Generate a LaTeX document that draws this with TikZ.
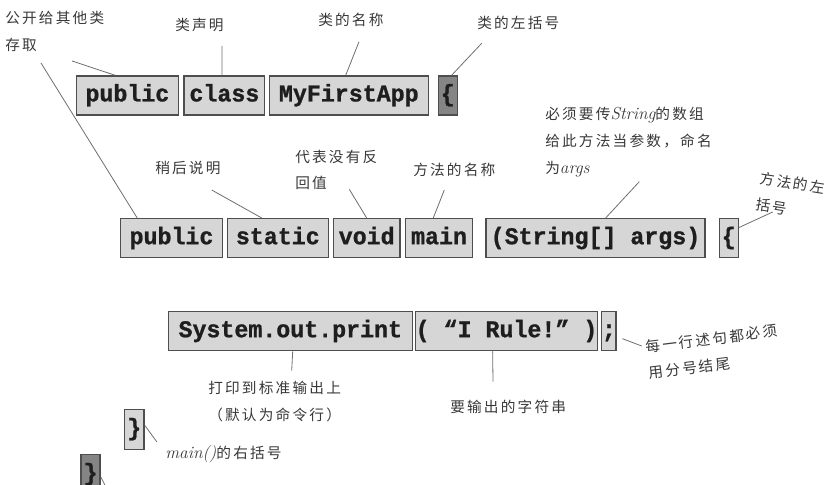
\documentclass[tikz,border=0pt]{standalone}
\usepackage{fontspec}
\setmonofont{Liberation Mono}[FakeStretch=0.97, BoldFeatures={FakeBold=1}]
\newfontfamily\cjk[LetterSpace=15]{Noto Sans CJK SC}
\newcommand\handlatin[1]{{\rmfamily\itshape\fontsize{13}{20}\selectfont #1}}

\definecolor{boxgray}{HTML}{D6D6D6}
\definecolor{bracegray}{HTML}{858585}
\definecolor{boxedge}{HTML}{4E4E4E}
\definecolor{codeink}{HTML}{1E1E1E}
\definecolor{noteink}{HTML}{383838}
\definecolor{lineink}{HTML}{6E6E6E}

\begin{document}
\begin{tikzpicture}[x=0.75pt, y=-0.75pt,
	code/.style={draw=boxedge, fill=boxgray, line width=1pt, inner xsep=0pt, inner ysep=4pt,
		minimum height=0.75*39pt, text height=13.5pt, text depth=4.5pt, text=codeink,
		font=\ttfamily\bfseries\fontsize{18}{18}\selectfont},
	dark/.style={code, fill=bracegray},
	note/.style={anchor=west, align=left, inner sep=0pt, text=noteink,
		font=\cjk\fontsize{11}{20}\selectfont},
	pointer/.style={draw=lineink, line width=0.6pt}]
	\useasboundingbox (0,0) rectangle (839,485);

	% class line
	\node[code, minimum width=0.75*101.6pt] (pub1) at (127.4,95.4) {public};
	\node[code, minimum width=0.75*80.7pt] (cls) at (224.4,95.4) {class};
	\node[code, minimum width=0.75*159pt] (appname) at (348.8,95.4) {MyFirstApp};
	\node[dark, minimum width=0.75*19pt] (lbr1) at (447.8,95.4) {\{};

	% method line
	\node[code, minimum width=0.75*101.6pt] (pub2) at (171.5,238.2) {public};
	\node[code, minimum width=0.75*101pt] (stat) at (277.8,238.2) {static};
	\node[code, minimum width=0.75*66.7pt] (vd) at (366.7,238.2) {void};
	\node[code, minimum width=0.75*67.4pt] (mn) at (439,238.2) {main};
	\node[code, minimum width=0.75*219pt] (args) at (595.5,238.2) {(String[] args)};
	\node[code, minimum width=0.75*19pt] (lbr2) at (728.8,238.2) {\{};

	% statement line
	\node[code, minimum width=0.75*244pt] (prt) at (290.3,331.2) {System.out.print};
	\node[code, minimum width=0.75*181.6pt] (str) at (506.5,331.2) {( “I Rule!” )};
	\node[code, minimum width=0.75*14.3pt] (semi) at (608.9,331.2) {;};

	% closing braces
	\node[code, minimum width=0.75*19.7pt, minimum height=0.75*40pt] (rbr1) at (134.2,429.3) {\}};
	\node[dark, minimum width=0.75*19pt, minimum height=0.75*40pt] (rbr2) at (90.5,474.3) {\}};

	% notes
	\node[note] (n_pub) at (5,31.5) {公开给其他类\\存取};
	\node[note] (n_cls) at (175,25) {类声明};
	\node[note] (n_app) at (318,20) {类的名称};
	\node[note] (n_lbr1) at (477,23) {类的左括号};
	\node[note] (n_stat) at (155,168) {稍后说明};
	\node[note] (n_vd) at (295,170) {代表没有反\\回值};
	\node[note] (n_mn) at (413,170) {方法的名称};
	\node[note] (n_args) at (545,142) {必须要传\handlatin{String}的数组\\给此方法当参数，命名\\为\handlatin{args}};
	\node[note, rotate=-9] (n_lbr2) at (758,191) {方法的左\\括号};
	\node[note] (n_prt) at (208,401.7) {打印到标准输出上\\（默认为命令行）};
	\node[note] (n_str) at (450,406.7) {要输出的字符串};
	\node[note, rotate=7] (n_semi) at (647,360) {每一行述句都必须\\用分号结尾};
	\node[note] (n_rbr1) at (165,454) {\handlatin{main()}的右括号};

	% free ends of the pointers
	\coordinate (c1) at (72,61);
	\coordinate (c2) at (41,63);
	\coordinate (c3) at (222,46);
	\coordinate (c4) at (359,41.7);
	\coordinate (c5) at (481.7,43.3);
	\coordinate (c6) at (211.7,190);
	\coordinate (c7) at (349.3,189.3);
	\coordinate (c8) at (444.3,190);
	\coordinate (c9) at (639.3,181.7);
	\coordinate (c10) at (772.7,212);
	\coordinate (c11) at (291.7,370.7);
	\coordinate (c12) at (493,381.7);
	\coordinate (c13) at (641.7,346);
	\coordinate (c14) at (156.7,441.7);
	\coordinate (c15) at (110,495);

	\draw[pointer] (c1) -- ([xshift=-9.3pt]pub1.north);
	\draw[pointer] (c2) -- ([xshift=-25.7pt]pub2.north);
	\draw[pointer] (c3) -- ([xshift=-1.8pt]cls.north);
	\draw[pointer] (c4) -- ([xshift=-2.3pt]appname.north);
	\draw[pointer] (c5) -- ([xshift=2.9pt]lbr1.north);
	\draw[pointer] (c6) -- ([xshift=-12pt]stat.north);
	\draw[pointer] (c7) -- (vd.north);
	\draw[pointer] (c8) -- ([xshift=-4.3pt]mn.north);
	\draw[pointer] (c9) -- ([xshift=7.6pt]args.north);
	\draw[pointer] (c10) -- ([yshift=8pt]lbr2.east);
	\draw[pointer] ([xshift=1.8pt]prt.south) -- (c11);
	\draw[pointer] ([xshift=-10.4pt]str.south) -- (c12);
	\draw[pointer, shorten <=4.5pt] ([yshift=-4pt]semi.east) -- (c13);
	\draw[pointer] ([yshift=3pt]rbr1.east) -- (c14);
	\draw[pointer] ([yshift=-1.8pt]rbr2.east) -- (c15);
\end{tikzpicture}
\end{document}
